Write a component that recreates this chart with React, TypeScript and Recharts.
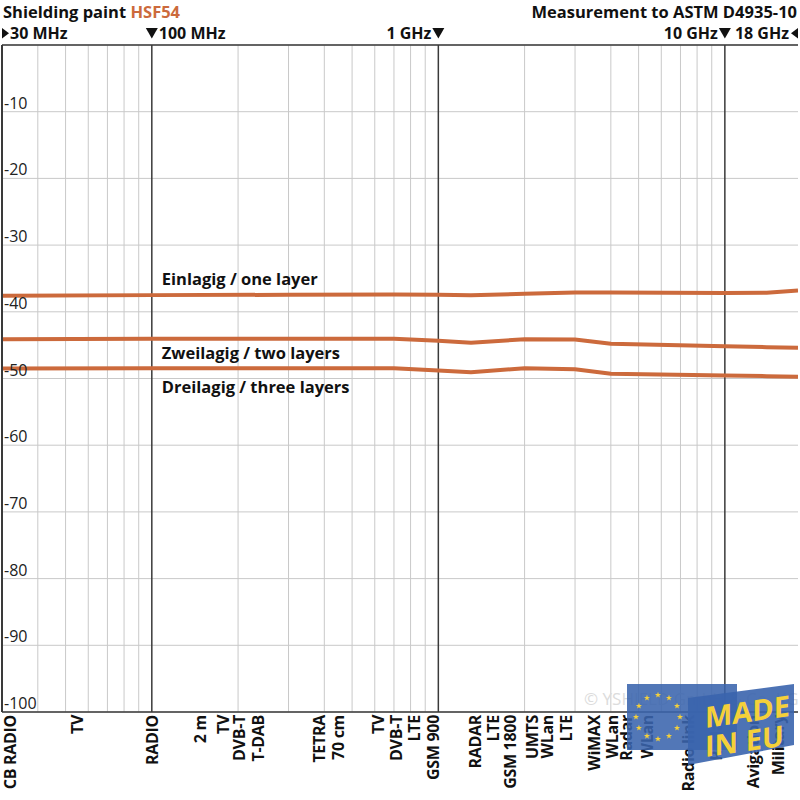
import React from 'react';
import {LineChart, Line, XAxis, YAxis, CartesianGrid, ReferenceLine, LabelList} from 'recharts';

// measured frequencies in MHz
const freqs = [30, 100, 300, 700, 1000, 1300, 2000, 3000, 4000, 10000, 14000, 18000];
const oneLayer = [-37.6, -37.5, -37.45, -37.4, -37.45, -37.5, -37.3, -37.1, -37.1, -37.2, -37.15, -36.8];
const twoLayers = [-44.1, -44.05, -44.05, -44.05, -44.35, -44.65, -44.1, -44.15, -44.8, -45.15, -45.3, -45.4];
const threeLayers = [-48.5, -48.45, -48.45, -48.45, -48.8, -49.05, -48.45, -48.6, -49.3, -49.55, -49.65, -49.75];

const seriesNames = ['Einlagig / one layer', 'Zweilagig / two layers', 'Dreilagig / three layers'];

const yTicks = [-10, -20, -30, -40, -50, -60, -70, -80, -90, -100];
const gridFreqs = [40, 50, 60, 70, 80, 90, 200, 300, 400, 500, 600, 700, 800, 900,
    2000, 3000, 4000, 5000, 6000, 7000, 8000, 9000];
const decadeFreqs = [100, 1000, 10000];

const topFreqs = [30, 100, 1000, 10000, 18000];
const topLabels = ['30 MHz', '100 MHz', '1 GHz', '10 GHz', '18 GHz'];
const topMarks = ['right', 'downAfter', 'downBefore', 'downBefore', 'left'];

const bandFreqs = [32, 55, 100, 147, 177, 201, 234, 383, 446, 615, 711, 821, 957, 1340, 1550, 1776,
    2120, 2390, 2790, 3490, 4030, 4510, 5340, 7430, 9300, 12500, 15300];
const bandNames = ['CB RADIO', 'TV', 'RADIO', '2 m', 'TV', 'DVB-T', 'T-DAB', 'TETRA', '70 cm', 'TV', 'DVB-T',
    'LTE', 'GSM 900', 'RADAR', 'LTE', 'GSM 1800', 'UMTS', 'WLan', 'LTE', 'WiMAX', 'WLan', 'Radar', 'WLan',
    'Radio link', 'Radar', 'Avigation', 'Military'];

const data = freqs.map((f, i) => ({f, one: oneLayer[i], two: twoLayers[i], three: threeLayers[i]}));

const ORANGE = '#cc6a3c';
const DARK = '#3a3a3a';
const FONT = '"Open Sans", "Noto Sans", sans-serif';

const BandTick = (props: any) => {
    const {x, payload} = props;
    const name = bandNames[bandFreqs.indexOf(payload.value)];
    const y = 715;
    return (
        <text x={x} y={y} transform={`rotate(-90 ${x} ${y})`} textAnchor="end" dominantBaseline="central"
              fontSize={16} fontWeight={700} fill="#111" fontFamily={FONT} letterSpacing={-0.3}>{name}</text>
    );
};

const TopTick = (props: any) => {
    const {x, payload} = props;
    const i = topFreqs.indexOf(payload.value);
    const mark = topMarks[i];
    const t = 28, b = 38.5;
    let tri = '';
    let tx = x;
    let anchor: 'start' | 'end' = 'start';
    if (mark === 'right') { tri = `${x},${t} ${x + 7},${(t + b) / 2} ${x},${b}`; tx = x + 8; }
    if (mark === 'downAfter') { tri = `${x - 6},${t} ${x + 6},${t} ${x},${b}`; tx = x + 7; }
    if (mark === 'downBefore') { tri = `${x - 6},${t} ${x + 6},${t} ${x},${b}`; tx = x - 7; anchor = 'end'; }
    if (mark === 'left') { tri = `${x},${t} ${x - 7},${(t + b) / 2} ${x},${b}`; tx = x - 9; anchor = 'end'; }
    return (
        <g>
            <polygon points={tri} fill="#111" />
            <text x={tx} y={b} textAnchor={anchor} fontSize={16} fontWeight={700} fill="#111" fontFamily={FONT}>{topLabels[i]}</text>
        </g>
    );
};

const YTick = (props: any) => {
    const {y, payload} = props;
    return <text x={4} y={y - 3} fontSize={16} fill="#222" fontFamily={FONT}>{payload.value}</text>;
};

const seriesLabel = (name: string, dy: number) => (props: any) => {
    const {x, y, index} = props;
    if (index !== 1) return null;
    return <text x={x + 10} y={y + dy} fontSize={16.5} fontWeight={700} fill="#111" fontFamily={FONT}
                 dominantBaseline="central">{name}</text>;
};

const Stars = () => {
    const cx = 658, cy = 717, r = 22;
    return (
        <g>
            {Array.from({length: 12}).map((_, k) => {
                const a = (k / 12) * Math.PI * 2;
                const sx = cx + r * Math.sin(a), sy = cy - r * Math.cos(a);
                const pts = Array.from({length: 10}).map((__, j) => {
                    const rr = j % 2 === 0 ? 3.2 : 1.3;
                    const aa = (j / 10) * Math.PI * 2;
                    return `${sx + rr * Math.sin(aa)},${sy - rr * Math.cos(aa)}`;
                }).join(' ');
                return <polygon key={k} points={pts} fill="#f4d03a" />;
            })}
        </g>
    );
};

export default function App() {
    return (
        <div style={{position: 'absolute', left: 0, top: 0, width: 800, height: 800, background: '#fff', fontFamily: FONT}}>
            <LineChart width={800} height={800} data={data} margin={{top: 15, right: 2, left: 1, bottom: 0}}>
                <CartesianGrid vertical={false} stroke="#c9c9c9" />
                <XAxis xAxisId="b" dataKey="f" type="number" scale="log" domain={[30, 18000]} allowDataOverflow
                       ticks={bandFreqs} interval={0} tick={<BandTick />} tickLine={false}
                       axisLine={{stroke: DARK, strokeWidth: 1.5}} height={88} />
                <XAxis xAxisId="t" orientation="top" dataKey="f" type="number" scale="log" domain={[30, 18000]}
                       allowDataOverflow ticks={topFreqs} interval={0} tick={<TopTick />} tickLine={false}
                       axisLine={{stroke: DARK, strokeWidth: 1.5}} height={30} />
                <YAxis type="number" domain={[-100, 0]} ticks={yTicks} interval={0} width={1} tick={<YTick />}
                       tickLine={false} axisLine={{stroke: DARK, strokeWidth: 2}} />
                {gridFreqs.map(g => (
                    <ReferenceLine key={g} xAxisId="b" x={g} stroke="#c9c9c9" />
                ))}
                {decadeFreqs.map(g => (
                    <ReferenceLine key={g} xAxisId="b" x={g} stroke={DARK} strokeWidth={1.5} />
                ))}
                <Line xAxisId="b" dataKey="one" stroke={ORANGE} strokeWidth={4} dot={false} isAnimationActive={false}>
                    <LabelList content={seriesLabel(seriesNames[0], -17)} />
                </Line>
                <Line xAxisId="b" dataKey="two" stroke={ORANGE} strokeWidth={4} dot={false} isAnimationActive={false}>
                    <LabelList content={seriesLabel(seriesNames[1], 14)} />
                </Line>
                <Line xAxisId="b" dataKey="three" stroke={ORANGE} strokeWidth={4} dot={false} isAnimationActive={false}>
                    <LabelList content={seriesLabel(seriesNames[2], 18)} />
                </Line>
            </LineChart>
            <svg width={800} height={800} style={{position: 'absolute', left: 0, top: 0, pointerEvents: 'none'}}>
                <text x={3} y={18} fontSize={16.5} fontWeight={700} fill="#111" fontFamily={FONT}>
                    Shielding paint <tspan fill={ORANGE}>HSF54</tspan>
                </text>
                <text x={797} y={18} textAnchor="end" fontSize={16.5} fontWeight={700} fill="#111" fontFamily={FONT}>
                    Measurement to ASTM D4935-10
                </text>
                <text x={584} y={705} fontSize={17} fill="#dcdcdc" fontFamily={FONT}>© YSHIELD GmbH &amp; Co. KG</text>
                <rect x={627} y={684} width={110} height={66} fill="#3a64ad" opacity={0.88} />
                <Stars />
                <polygon points="688,698 794,684 794,745 688,765" fill="#3a64ad" opacity={0.9} />
                <g transform="translate(705 0) skewY(-8)">
                    <text x={0} y={728} fontSize={29} fontWeight={700} fill="#f4d03a" fontFamily={FONT}>MADE</text>
                    <text x={0} y={757} fontSize={29} fontWeight={700} fill="#f4d03a" fontFamily={FONT}>IN EU</text>
                </g>
            </svg>
        </div>
    );
}
